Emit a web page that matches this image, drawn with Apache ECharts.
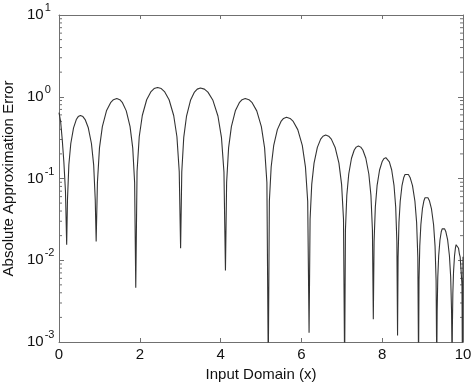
<!DOCTYPE html>
<html>
<head>
<meta charset="utf-8">
<script src="https://cdn.jsdelivr.net/npm/echarts@6/dist/echarts.min.js"></script>
<style>
html,body{margin:0;padding:0;background:#fff;}
#chart{width:474px;height:384px;}
</style>
</head>
<body>
<div id="chart"></div>
<script>
// Input domain (x) samples
const xs = [
  0.00,0.04,0.08,0.12,0.16,0.19,
  0.210,0.244,0.292,0.360,0.428,0.476,0.530,0.592,0.647,0.725,0.803,0.858,0.897,0.920,
  0.951,1.002,1.073,1.175,1.277,1.348,1.430,1.505,1.571,1.665,1.759,1.825,1.872,1.900,
  1.932,1.986,2.062,2.170,2.278,2.354,2.440,2.531,2.611,2.725,2.839,2.919,2.976,3.010,
  3.039,3.088,3.157,3.255,3.353,3.422,3.500,3.599,3.686,3.810,3.934,4.021,4.083,4.120,
  4.149,4.198,4.267,4.365,4.463,4.532,4.610,4.701,4.781,4.895,5.009,5.089,5.146,5.180,
  5.207,5.252,5.315,5.405,5.495,5.558,5.630,5.720,5.798,5.910,6.022,6.100,6.156,6.190,
  6.215,6.256,6.313,6.395,6.477,6.534,6.600,6.675,6.741,6.835,6.929,6.995,7.042,7.070,
  7.090,7.124,7.172,7.240,7.308,7.356,7.410,7.469,7.521,7.595,7.669,7.721,7.758,7.780,
  7.799,7.830,7.873,7.935,7.997,8.040,8.090,8.136,8.177,8.235,8.293,8.334,8.363,8.380,
  8.393,8.415,8.446,8.490,8.534,8.565,8.600,8.648,8.690,8.750,8.810,8.852,8.882,8.900,
  8.911,8.930,8.957,8.995,9.033,9.060,9.090,9.132,9.168,9.220,9.272,9.308,9.334,9.350,
  9.360,9.376,9.398,9.430,9.462,9.484,9.510,9.545,9.576,9.620,9.664,9.695,9.717,9.730,
  9.737,9.749,9.766,9.790,9.814,9.830,9.850,9.870,9.890,9.910,9.930,9.955,9.975,9.985,10.00
];
// Absolute approximation error values
const errors = [
  0.64,0.50,0.30,0.16,0.07,0.0155,
  0.0555,0.147,0.268,0.417,0.526,0.572,0.59,0.572,0.526,0.417,0.268,0.147,0.0555,0.017,
  0.0893,0.237,0.431,0.672,0.846,0.921,0.95,0.921,0.846,0.672,0.431,0.237,0.0893,0.0046,
  0.122,0.324,0.590,0.919,1.158,1.260,1.30,1.260,1.158,0.919,0.590,0.324,0.122,0.014,
  0.120,0.319,0.581,0.905,1.140,1.240,1.28,1.240,1.140,0.905,0.581,0.319,0.120,0.0075,
  0.0893,0.237,0.431,0.672,0.846,0.921,0.95,0.921,0.846,0.672,0.431,0.237,0.0893,0.0005,
  0.0526,0.139,0.254,0.396,0.499,0.543,0.56,0.543,0.499,0.396,0.254,0.139,0.0526,0.0013,
  0.032,0.0847,0.154,0.240,0.303,0.329,0.34,0.329,0.303,0.240,0.154,0.0847,0.032,0.0005,
  0.0235,0.0623,0.1135,0.177,0.223,0.242,0.25,0.242,0.223,0.177,0.1135,0.0623,0.0235,0.0019,
  0.0169,0.0448,0.0817,0.127,0.160,0.174,0.18,0.174,0.160,0.127,0.0817,0.0448,0.0169,0.0012,
  0.0109,0.0289,0.0527,0.082,0.103,0.112,0.116,0.112,0.103,0.082,0.0527,0.0289,0.0109,0.0005,
  0.00564,0.0149,0.0272,0.0424,0.0535,0.0581,0.060,0.0581,0.0535,0.0424,0.0272,0.0149,0.00564,0.0005,
  0.00235,0.00623,0.01135,0.0177,0.0223,0.0242,0.025,0.0242,0.0223,0.0177,0.01135,0.00623,0.00235,0.0005,
  0.0015,0.004,0.0073,0.0113,0.0143,0.0155,0.016,0.0155,0.014,0.012,0.011,0.0105,0.005,0.0005,0.011
];
// Axis ticks
const xTicks = [0, 2, 4, 6, 8, 10];
const yMin = 0.001, yMax = 10;
const minorTickValues = [
  0.002,0.003,0.004,0.005,0.006,0.007,0.008,0.009,
  0.02,0.03,0.04,0.05,0.06,0.07,0.08,0.09,
  0.2,0.3,0.4,0.5,0.6,0.7,0.8,0.9,
  2,3,4,5,6,7,8,9
];
const xName = 'Input Domain (x)';
const yName = 'Absolute Approximation Error';

const FONT = '"Liberation Sans", Arial, Helvetica, sans-serif';
const NARROW = '"Liberation Sans Narrow", "Liberation Sans", Arial, sans-serif';
const AXIS_COLOR = '#707070';
const TEXT_COLOR = '#111';

const chart = echarts.init(document.getElementById('chart'), null, {renderer: 'canvas'});
const lineData = xs.map((x, i) => [x, errors[i]]);

const baseX = {
  type: 'value', min: xTicks[0], max: xTicks[xTicks.length - 1], interval: 2,
  axisLine: {show: true, onZero: false, lineStyle: {color: AXIS_COLOR, width: 1}},
  axisTick: {show: true, inside: true, length: 4, lineStyle: {color: AXIS_COLOR}},
  splitLine: {show: false}
};
const baseY = {
  type: 'log', logBase: 10, min: yMin, max: yMax,
  axisLine: {show: true, onZero: false, lineStyle: {color: AXIS_COLOR, width: 1}},
  axisTick: {show: true, inside: true, length: 5, lineStyle: {color: AXIS_COLOR}},
  splitLine: {show: false}
};

chart.setOption({
  animation: false,
  backgroundColor: '#fff',
  textStyle: {fontFamily: FONT},
  grid: {left: 59, right: 11, top: 15, bottom: 42, containLabel: false, outerBoundsMode: 'none'},
  xAxis: [
    Object.assign({}, baseX, {
      position: 'bottom',
      name: xName, nameLocation: 'middle', nameGap: 23,
      nameTextStyle: {fontSize: 15, color: TEXT_COLOR, fontFamily: FONT},
      axisLabel: {show: true, margin: 5, fontSize: 15, color: TEXT_COLOR, fontFamily: FONT}
    }),
    Object.assign({}, baseX, {position: 'top', axisLabel: {show: false}})
  ],
  yAxis: [
    Object.assign({}, baseY, {
      position: 'left',
      name: yName, nameLocation: 'middle', nameGap: 34, nameRotate: 90,
      nameTextStyle: {fontSize: 15, color: TEXT_COLOR, fontFamily: FONT},
      axisLabel: {
        show: true, margin: 32, align: 'left', color: TEXT_COLOR, fontFamily: NARROW,
        formatter: function (v) {
          const e = Math.round(Math.log10(v));
          return '{b|10}{s|' + e + '}';
        },
        rich: {
          b: {fontSize: 15, color: TEXT_COLOR, fontFamily: NARROW, verticalAlign: 'middle'},
          s: {fontSize: 11, color: TEXT_COLOR, fontFamily: NARROW, verticalAlign: 'middle', padding: [0, 0, 14, 1]}
        }
      }
    }),
    Object.assign({}, baseY, {position: 'right', axisLabel: {show: false}})
  ],
  series: [
    {
      type: 'line', xAxisIndex: 0, yAxisIndex: 0,
      data: lineData, showSymbol: false, symbol: 'none', smooth: false, clip: true,
      lineStyle: {color: '#333', width: 1.1}
    },
    {
      type: 'custom', xAxisIndex: 0, yAxisIndex: 0, silent: true,
      data: minorTickValues.map(v => [xTicks[0], v]),
      renderItem: function (params, api) {
        const v = api.value(1);
        const pl = api.coord([xTicks[0], v]);
        const pr = api.coord([xTicks[xTicks.length - 1], v]);
        const st = {stroke: AXIS_COLOR, lineWidth: 1};
        return {
          type: 'group',
          children: [
            {type: 'line', shape: {x1: pl[0], y1: pl[1], x2: pl[0] + 3, y2: pl[1]}, style: st},
            {type: 'line', shape: {x1: pr[0], y1: pr[1], x2: pr[0] - 3, y2: pr[1]}, style: st}
          ]
        };
      }
    }
  ]
});
</script>
</body>
</html>
